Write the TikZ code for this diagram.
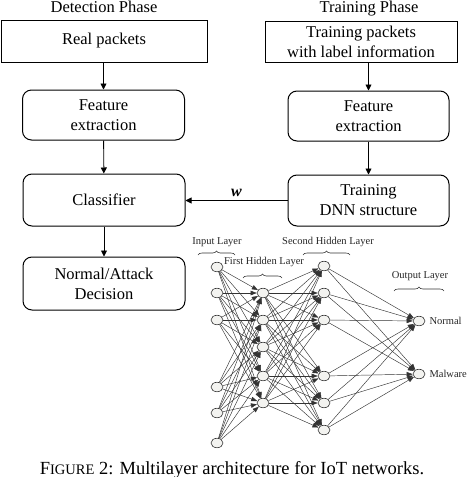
\documentclass[tikz,border=0pt]{standalone}
\usepackage{fontspec}
\setmainfont{Liberation Serif}
\usetikzlibrary{arrows.meta,decorations.pathreplacing,shapes.geometric}
\begin{document}
\begin{tikzpicture}[x=1pt,y=-1pt,
  sqbox/.style={draw,line width=1pt,inner sep=0pt,align=center,font=\fontsize{16.5}{20}\selectfont},
  rbox/.style={sqbox,rounded corners=9pt},
  flow/.style={-{Triangle[length=6pt,width=6pt]},line width=0.9pt},
  neuron/.style={ellipse,draw=black!80,fill=yellow!10!gray!12,line width=0.6pt,minimum width=12pt,minimum height=9.5pt,inner sep=0pt},
  conn/.style={-{Triangle[length=6pt,width=4.5pt]},black!80,line width=0.45pt},
  lbl/.style={font=\fontsize{10.5}{12}\selectfont,text=black!85},
  brc/.style={decorate,decoration={brace,amplitude=4pt},line width=0.6pt,black!80},
  title/.style={font=\fontsize{16.5}{18}\selectfont,anchor=base}]
\useasboundingbox (0,0) rectangle (474,477);
% titles
\node[title] (dt) at (104,12.5) {Detection Phase};
\node[title] (tt) at (369,12.5) {Training Phase};
% left column
\node[sqbox,minimum width=206pt,minimum height=42pt] (rp) at (104,41) {Real packets};
\node[rbox,minimum width=162pt,minimum height=50pt] (fl) at (103.5,115) {Feature\\extraction};
\node[rbox,minimum width=162pt,minimum height=52pt] (cl) at (104,200) {Classifier};
\node[rbox,minimum width=162pt,minimum height=53pt] (de) at (104,283.5) {Normal/Attack\\Decision};
% right column
\node[sqbox,minimum width=192pt,minimum height=41pt] (tp) at (361,41.5) {Training packets\\with label information};
\node[rbox,minimum width=161pt,minimum height=50pt] (fr) at (368.5,116) {Feature\\extraction};
\node[rbox,minimum width=161pt,minimum height=51pt] (td) at (368.5,200.5) {Training\\DNN structure};
% flow arrows
\draw[flow] (rp.south -| fl.north) -- (fl.north);
\draw[flow] (fl) -- (cl);
\draw[flow] (cl) -- (de);
\draw[flow] (tp.south -| fr.north) -- (fr.north);
\draw[flow] (fr) -- (td);
\draw[flow] (td.west) -- node[above,font=\fontsize{16}{18}\selectfont\bfseries\itshape] (w) {w} (td.west -| cl.east);
% network
\foreach \i/\y in {1/267,2/293,3/320,4/387,5/413,6/443}
  \node[neuron] (i\i) at (217,\y) {};
\foreach \i/\y in {1/293,2/320,3/347,4/376,5/403}
  \node[neuron] (h\i) at (263,\y) {};
\foreach \i/\y in {1/266,2/293,3/320,4/376,5/403,6/430}
  \node[neuron] (s\i) at (324,\y) {};
\node[neuron] (o1) at (419,321) {};
\node[neuron] (o2) at (419,374) {};
\foreach \a in {1,...,6}
  \foreach \b in {1,...,5}
    \draw[conn] (i\a) -- (h\b);
\foreach \a in {1,...,5}
  \foreach \b in {1,...,6}
    \draw[conn] (h\a) -- (s\b);
\foreach \a in {1,...,6}
  \foreach \b in {1,2}
    \draw[conn] (s\a) -- (o\b);
\node[lbl,anchor=west] (nl) at (426,321) {Normal};
\node[lbl,anchor=west] (ml) at (426,374) {Malware};
% layer labels and braces
\node[lbl] (il) at (217,242) {Input Layer};
\draw[brc] (198,255) -- (235,255);
\node[lbl] (fh) at (264,262) {First Hidden Layer};
\draw[brc] (243,278) -- (282,278);
\node[lbl] (sh) at (328,242) {Second Hidden Layer};
\draw[brc] (303,255) -- (350,255);
\node[lbl] (ol) at (420,276) {Output Layer};
\draw[brc] (394,291) -- (444,291);
% caption
\node[anchor=base,font=\fontsize{18.5}{20}\selectfont] (cap) at (232,474) {F{\fontsize{14.5}{16}\selectfont IGURE} 2: Multilayer architecture for IoT networks.};
\end{tikzpicture}
\end{document}
